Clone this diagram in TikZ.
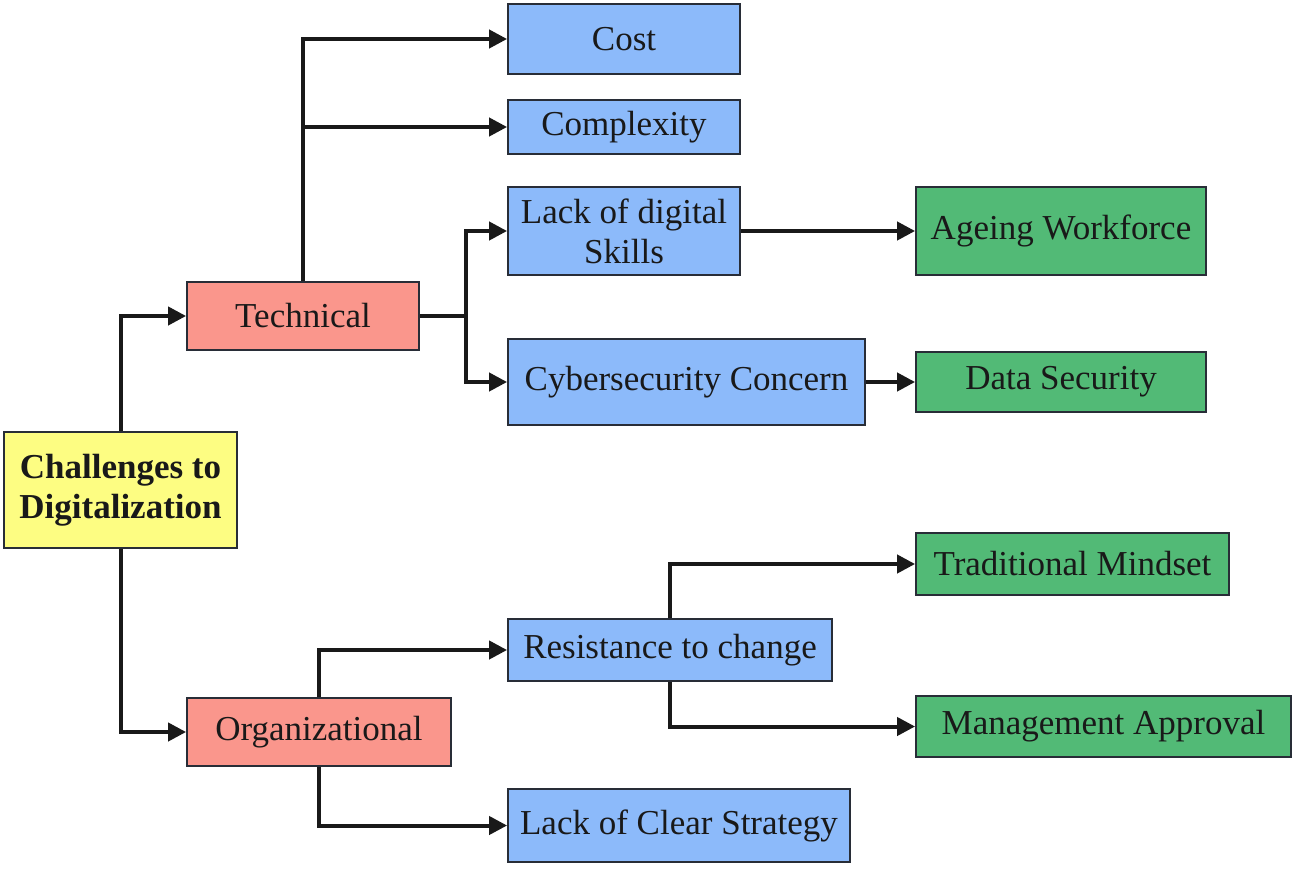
\documentclass[tikz,border=0pt]{standalone}
\usepackage{fontspec}
\setmainfont{Liberation Serif}
\usetikzlibrary{arrows.meta}
\definecolor{rootfill}{RGB}{253,253,130}
\definecolor{mainfill}{RGB}{250,150,140}
\definecolor{subfill}{RGB}{140,186,250}
\definecolor{leaffill}{RGB}{82,186,118}
\definecolor{boxline}{RGB}{40,45,55}

\begin{document}
\begin{tikzpicture}[x=0.5pt,y=0.5pt,yscale=-1,xscale=1,
  box/.style={draw=boxline,line width=0.9pt,inner sep=0pt,align=center,
    font=\fontsize{17.5}{20}\selectfont,text=black!90},
  link/.style={line width=2pt,black!90,-{Triangle[length=9pt,width=9pt]}},
  plain/.style={line width=2pt,black!90}]
\useasboundingbox (0,0) rectangle (1296,868);

%Shape: Rectangle [root]
\node [box,fill=rootfill,minimum width=116.5pt,minimum height=58pt,
  font=\fontsize{17.5}{20}\selectfont\bfseries] (root) at (120.5,490) {Challenges to\\Digitalization};
%Shape: Rectangle [main branches]
\node [box,fill=mainfill,minimum width=116pt,minimum height=34pt] (tech) at (303,316) {Technical};
\node [box,fill=mainfill,minimum width=132pt,minimum height=34pt] (org) at (319,732) {Organizational};
%Shape: Rectangle [sub branches]
\node [box,fill=subfill,minimum width=116pt,minimum height=35pt] (cost) at (624,39) {Cost};
\node [box,fill=subfill,minimum width=116pt,minimum height=27pt] (cplx) at (624,127) {Complexity};
\node [box,fill=subfill,minimum width=116pt,minimum height=44pt] (skills) at (624,231) {Lack of digital\\Skills};
\node [box,fill=subfill,minimum width=178.5pt,minimum height=43pt] (cyber) at (686.5,382) {Cybersecurity Concern};
\node [box,fill=subfill,minimum width=162pt,minimum height=31pt] (resist) at (670,650) {Resistance to change};
\node [box,fill=subfill,minimum width=171pt,minimum height=36.5pt] (strategy) at (679,825.5) {Lack of Clear Strategy};
%Shape: Rectangle [leaves]
\node [box,fill=leaffill,minimum width=145pt,minimum height=44pt] (ageing) at (1061,231) {Ageing Workforce};
\node [box,fill=leaffill,minimum width=145pt,minimum height=30pt] (datasec) at (1061,382) {Data Security};
\node [box,fill=leaffill,minimum width=156.5pt,minimum height=31pt] (trad) at (1072.5,564) {Traditional Mindset};
\node [box,fill=leaffill,minimum width=187.5pt,minimum height=30.5pt] (mgmt) at (1103.5,726.5) {Management Approval};

\coordinate (techsplit) at (466,316);

%Connectors
\draw [link] (root.north) |- (tech.west);
\draw [link] (root.south) |- (org.west);
\draw [link] (tech.north) |- (cost.west);
\draw [link] (tech.north) |- (cplx.west);
\draw [plain] (tech.east) -- (techsplit);
\draw [link] (techsplit) |- (skills.west);
\draw [link] (techsplit) |- (cyber.west);
\draw [link] (skills.east) -- (ageing.west);
\draw [link] (cyber.east) -- (datasec.west);
\draw [link] (org.north) |- (resist.west);
\draw [link] (org.south) |- (strategy.west);
\draw [link] (resist.north) |- (trad.west);
\draw [link] (resist.south) |- (mgmt.west);

\end{tikzpicture}
\end{document}
